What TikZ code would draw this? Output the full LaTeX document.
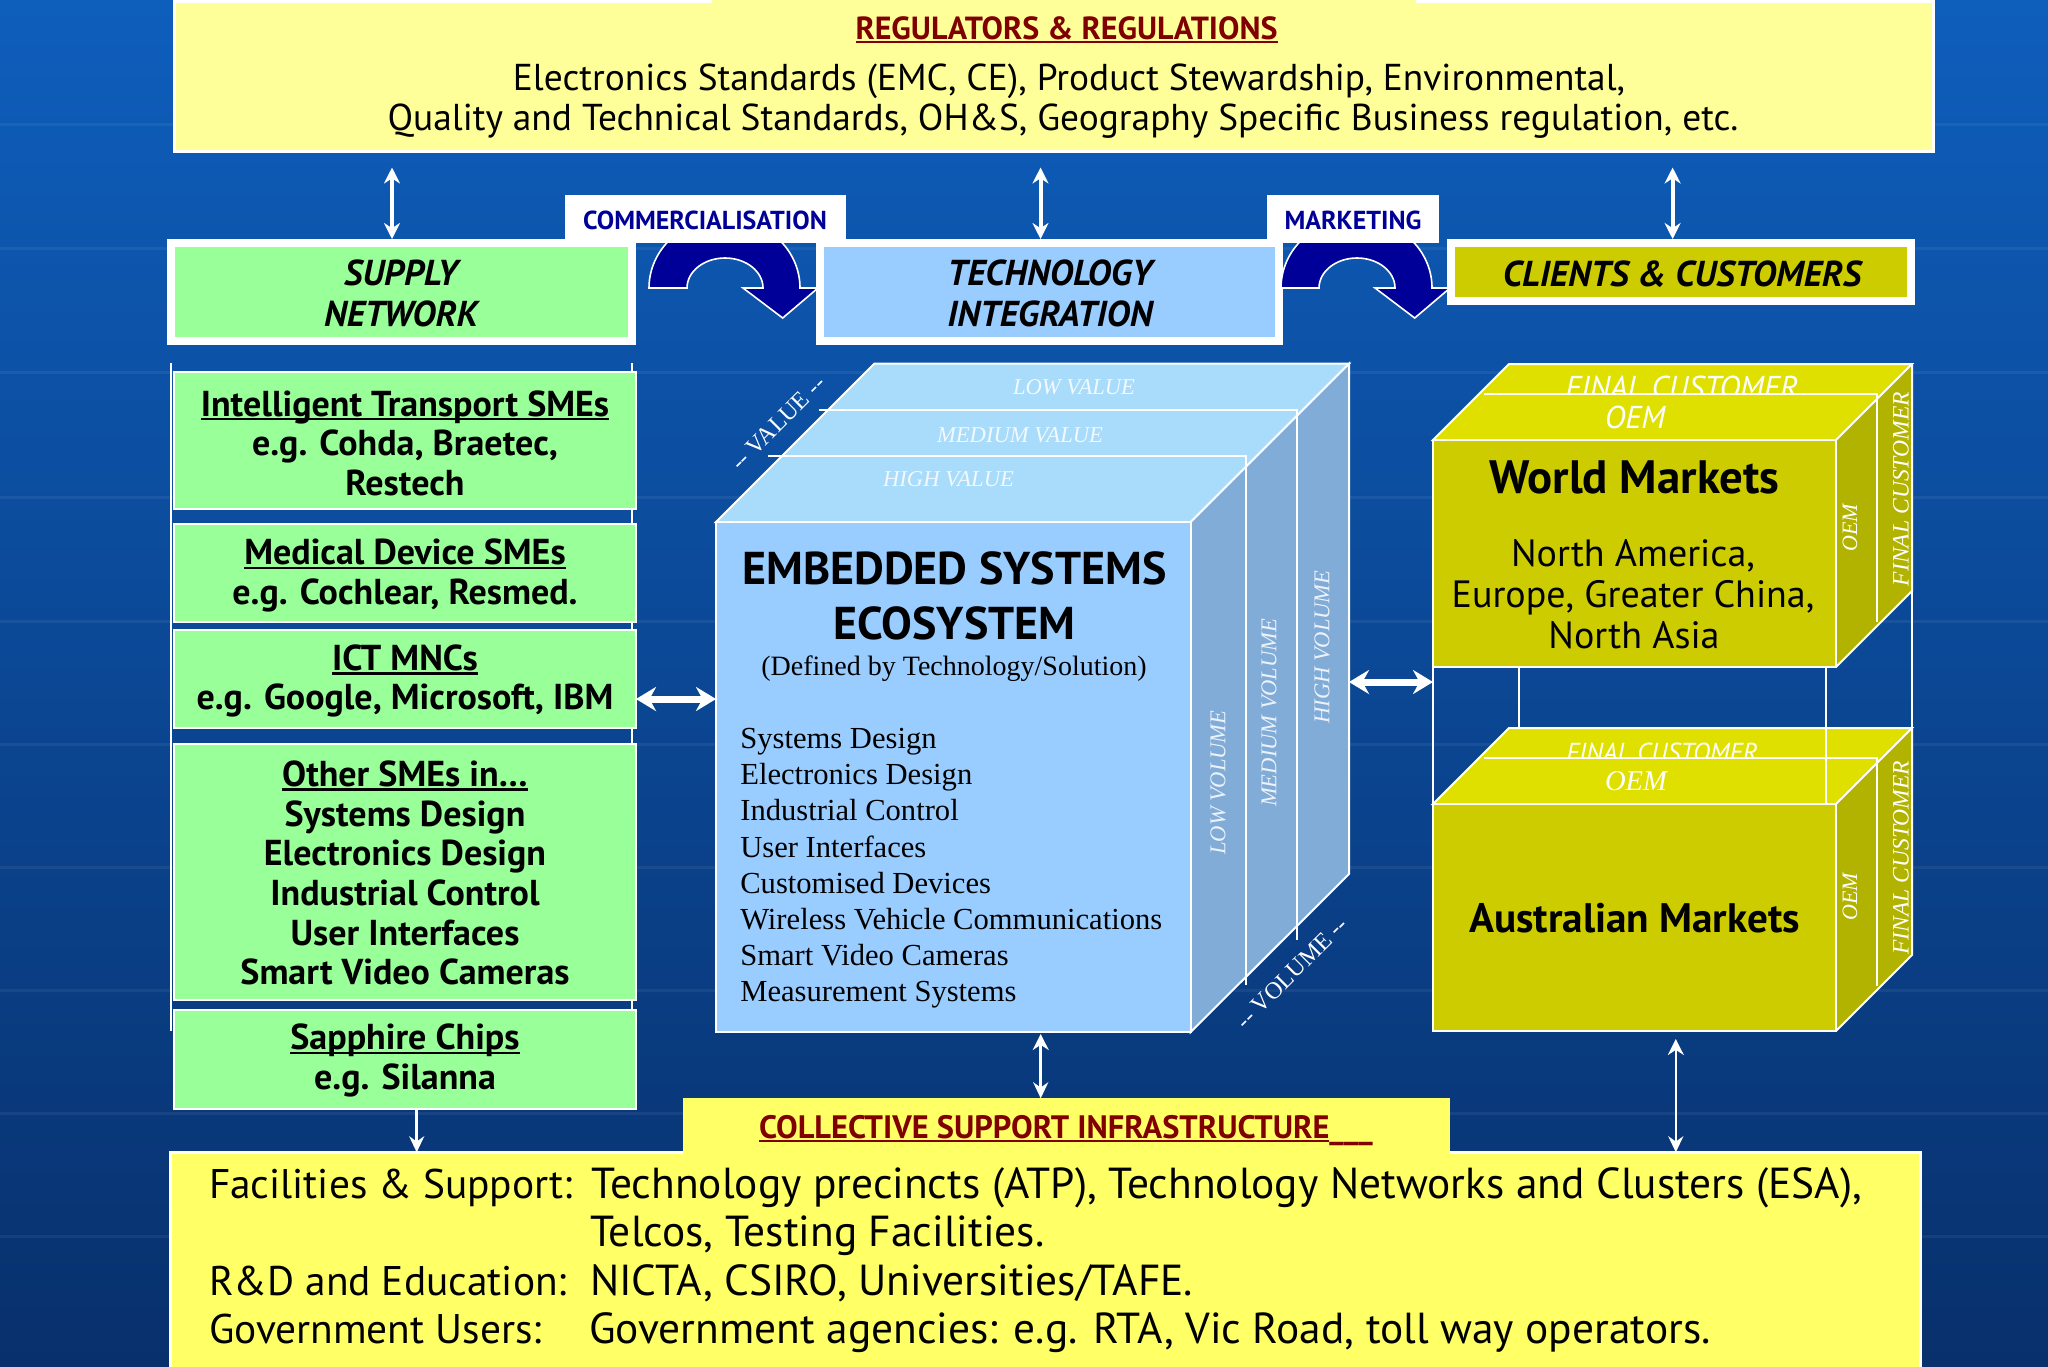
\documentclass[tikz,border=0pt]{standalone}
\usepackage{fontspec}
\setmainfont{PT Sans}
\newfontfamily\tnr{Liberation Serif}
\usetikzlibrary{arrows.meta,fit}
\newcommand\fsz[2]{\fontsize{#1}{#2}\selectfont}
\newcommand\myul[1]{\setbox0\hbox{#1}\rlap{\rule[-0.12em]{\wd0}{0.07em}}\box0}
\definecolor{bgtop}{RGB}{14,94,188}
\definecolor{bgbot}{RGB}{8,48,108}
\definecolor{regy}{RGB}{255,255,153}
\definecolor{boty}{RGB}{255,255,102}
\definecolor{grn}{RGB}{153,255,153}
\definecolor{ltb}{RGB}{153,204,255}
\definecolor{oliv}{RGB}{204,204,0}
\definecolor{olivtop}{RGB}{224,224,0}
\definecolor{olivside}{RGB}{178,178,0}
\definecolor{cubetop}{RGB}{168,220,250}
\definecolor{cubeside}{RGB}{130,172,216}
\definecolor{navyarr}{RGB}{0,0,153}
\definecolor{dred}{RGB}{128,0,0}
\begin{document}
\begin{tikzpicture}[x=0.5pt,y=-0.5pt,
  every node/.style={inner sep=0pt,outer sep=0pt},
  hdrbox/.style={draw=white,line width=4pt},
  hdrtxt/.style={align=center,font=\bfseries\itshape\fsz{18}{20.25}},
  tabtxt/.style={font=\bfseries\fsz{13}{15},text=navyarr},
  grnbox/.style={fill=grn,draw=white,line width=0.8pt},
  grntxt/.style={align=center,font=\bfseries\fsz{18}{19.8}},
  varr/.style={draw=white,line width=2pt,{Stealth[length=8pt,width=8pt]}-{Stealth[length=8pt,width=8pt]}},
  harr/.style={draw=white,line width=3.5pt,{Stealth[length=10pt,width=12pt]}-{Stealth[length=10pt,width=12pt]}},
  sarr/.style={draw=white,line width=1.3pt,-{Stealth[length=8pt,width=7.5pt]}},
  darr/.style={draw=white,line width=1.3pt,{Stealth[length=8pt,width=8pt]}-{Stealth[length=8pt,width=7.5pt]}},
  uturn/.style={fill=navyarr,draw=white,line width=0.8pt},
  edge3d/.style={draw=white,line width=1pt},
  facelbl/.style={text=white,opacity=0.85,font=\tnr\itshape\fsz{11.3}{13}},
  axlbl/.style={text=white,font=\tnr\fsz{12}{14},rotate=45},
  mlbl/.style={text=white,font=\itshape\fsz{15.8}{17}},
  slbl/.style={text=white,font=\tnr\itshape\fsz{11}{13},rotate=90},
  btxta/.style={anchor=base west,font=\fsz{20.7}{24}},
  btxtb/.style={anchor=base west,font=\fsz{21.7}{24}}]
\useasboundingbox (0,0) rectangle (2048,1366);
\shade[top color=bgtop,bottom color=bgbot] (0,0) rectangle (2048,1366);
\foreach \yy in {124,248,372,497,621,744,867,990,1113,1236}
  \draw[white,opacity=0.06,line width=1.5pt] (0,\yy) -- (2048,\yy);

% ---------- regulators ----------
\node[fill=regy,draw=white,line width=1.5pt,fit={(174,1.5) (1933,151.5)}] (reg) {};
\node[fill=regy,fit={(712,-10) (1416,8)}] (regtab) {};
\node[anchor=base,font=\bfseries\fsz{16}{18},text=dred] (regt) at (1066.5,39.3) {\myul{REGULATORS \& REGULATIONS}};
\node[anchor=base,font=\fsz{18.7}{22}] (regl1) at (1069,90) {Electronics Standards (EMC, CE), Product Stewardship, Environmental,};
\node[anchor=base,font=\fsz{18.7}{22}] (regl2) at (1063,130.7) {Quality and Technical Standards, OH\&S, Geography Specific Business regulation, etc.};

% ---------- row 2 ----------
\node[hdrbox,fill=grn,fit={(170.75,243) (631.5,340.5)}] (supply) {};
\node[hdrbox,fill=ltb,fit={(819.5,243) (1279,340.5)}] (tech) {};
\node[hdrbox,fill=oliv,fit={(1450.5,243) (1911,300.5)}] (clients) {};
\node[hdrtxt] (supplyt) at (401,293.5) {SUPPLY\\NETWORK};
\node[hdrtxt] (techt) at (1050,293.5) {TECHNOLOGY\\INTEGRATION};
\node[hdrtxt] (clientst) at (1682,274) {CLIENTS \& CUSTOMERS};

\path[uturn] (649,288) arc[start angle=180,end angle=360,x radius=75.5,y radius=70]
  -- (818,288) -- (782.7,318) -- (743,288) -- (763,288)
  arc[start angle=0,end angle=-180,x radius=38,y radius=30] -- cycle;
\path[uturn] (1281,288) arc[start angle=180,end angle=360,x radius=75.5,y radius=70]
  -- (1450,288) -- (1414.7,318) -- (1375,288) -- (1395,288)
  arc[start angle=0,end angle=-180,x radius=38,y radius=30] -- cycle;

\node[fill=white,fit={(565,195) (846,243)}] (comtab) {};
\node[fill=white,fit={(1267,195) (1439.4,242.7)}] (mkttab) {};
\node[tabtxt] (comt) at (705,220.5) {COMMERCIALISATION};
\node[tabtxt] (mktt) at (1353,220.5) {MARKETING};

\coordinate (xa1) at (392,0);
\coordinate (xa2) at (1040.5,0);
\coordinate (xa3) at (1672.6,0);
\draw[varr,shorten <=8pt,shorten >=2pt] (reg.south -| xa1) -- (supply.north -| xa1);
\draw[varr,shorten <=8pt,shorten >=2pt] (reg.south -| xa2) -- (tech.north -| xa2);
\draw[varr,shorten <=8pt,shorten >=2pt] (reg.south -| xa3) -- (clients.north -| xa3);

% ---------- left column ----------
\draw[white,line width=1pt] (171,363) -- (171,1031);
\draw[white,line width=1pt] (631.5,363) -- (631.5,1031);
\node[grnbox,fit={(174,372) (636,509)}] (its) {};
\node[grnbox,fit={(174,524) (636,622)}] (med) {};
\node[grnbox,fit={(174,630) (636,728)}] (ict) {};
\node[grnbox,fit={(174,744) (636,1000)}] (oth) {};
\node[grnbox,fit={(174,1010) (636,1109)}] (sap) {};
\node[grntxt] (itst) at (405,443) {\myul{Intelligent Transport SMEs}\\e.g. Cohda, Braetec,\\Restech};
\node[grntxt] (medt) at (405,575.5) {\myul{Medical Device SMEs}\\e.g. Cochlear, Resmed.};
\node[grntxt] (ictt) at (405,681) {\myul{ICT MNCs}\\e.g. Google, Microsoft, IBM};
\node[grntxt] (otht) at (405,873) {\myul{Other SMEs in…}\\Systems Design\\Electronics Design\\Industrial Control\\User Interfaces\\Smart Video Cameras};
\node[grntxt] (sapt) at (405,1060.5) {\myul{Sapphire Chips}\\e.g. Silanna};

% ---------- cube ----------
\path[fill=cubetop,edge3d] (716,522) -- (874.3,363.7) -- (1349,363.7) -- (1190.7,522) -- cycle;
\path[fill=cubeside,edge3d] (1190.7,522) -- (1349,363.7) -- (1349,874) -- (1190.7,1032) -- cycle;
\node[fill=ltb,edge3d,fit={(716,522) (1190.7,1032)}] (cube) {};
\draw[edge3d] (768,455.7) -- (1245.7,455.7) -- (1245.7,985);
\draw[edge3d] (819,410) -- (1297,410) -- (1297,940);
\coordinate (cubeback) at (1349,682);
\node[facelbl] (lval) at (1074,387.6) {LOW VALUE};
\node[facelbl] (mval) at (1020,435) {MEDIUM VALUE};
\node[facelbl] (hval) at (948.5,479) {HIGH VALUE};
\node[facelbl,rotate=90] (lvol) at (1218,782.6) {LOW VOLUME};
\node[facelbl,rotate=90] (mvol) at (1269,712.8) {MEDIUM VOLUME};
\node[facelbl,rotate=90] (hvol) at (1322,647) {HIGH VOLUME};
\node[axlbl] (valax) at (778,423) {-\kern0pt- VALUE -\kern0pt-};
\node[axlbl] (volax) at (1291.7,973) {-\kern0pt- VOLUME -\kern0pt-};
\node[anchor=base,font=\bfseries\fsz{23}{26}] (es1) at (954.5,584) {EMBEDDED SYSTEMS};
\node[anchor=base,font=\bfseries\fsz{23}{26}] (es2) at (954.5,639) {ECOSYSTEM};
\node[anchor=base,font=\tnr\fsz{14}{16}] (es3) at (954,675) {(Defined by Technology/Solution)};
\foreach \t [count=\i] in {Systems Design,Electronics Design,Industrial Control,User Interfaces,Customised Devices,Wireless Vehicle Communications,Smart Video Cameras,Measurement Systems}
  \node[anchor=base west,font=\tnr\fsz{15.3}{18}] (li\i) at (740.3,{748.5+(\i-1)*36.2}) {\t};

% ---------- world markets ----------
\fill[olivtop] (1433,440) -- (1509,364) -- (1912,364) -- (1836,440) -- cycle;
\fill[olivside] (1836,440) -- (1912,364) -- (1912,591) -- (1836,667) -- cycle;
\node[mlbl,anchor=base] (wfc) at (1681.7,398) {FINAL CUSTOMER};
\fill[olivtop] (1433,440) -- (1478.7,394.3) -- (1877,394.3) -- (1836,440) -- cycle;
\draw[edge3d] (1433,440) -- (1509,364) -- (1912,364) -- (1836,440) -- cycle;
\draw[edge3d] (1912,364) -- (1912,591) -- (1836,667);
\draw[edge3d] (1484,394.3) -- (1877,394.3) -- (1877,622);
\node[mlbl,anchor=base] (woem) at (1635,428) {OEM};
\node[slbl] (wsoem) at (1850,527.5) {OEM};
\node[slbl,font=\tnr\itshape\fsz{11.8}{13}] (wsfc) at (1901,489) {FINAL CUSTOMER};
\node[fill=oliv,edge3d,fit={(1433,440) (1836,667)}] (world) {};
\node[anchor=base,font=\bfseries\fsz{23.4}{26}] (wm1) at (1634.5,493) {World Markets};
\node[anchor=base,font=\fsz{19}{22}] (wm2) at (1633,566) {North America,};
\node[anchor=base,font=\fsz{19}{22}] (wm3) at (1633,607) {Europe, Greater China,};
\node[anchor=base,font=\fsz{19}{22}] (wm4) at (1634,648) {North Asia};

% ---------- australian markets ----------
\fill[olivtop] (1433,804) -- (1509,728) -- (1912,728) -- (1836,804) -- cycle;
\fill[olivside] (1836,804) -- (1912,728) -- (1912,955) -- (1836,1031) -- cycle;
\node[mlbl,anchor=base,font=\itshape\fsz{13}{15}] (afc) at (1662,761) {FINAL CUSTOMER};
\fill[olivtop] (1433,804) -- (1478.7,758.3) -- (1877,758.3) -- (1836,804) -- cycle;
\draw[edge3d] (1433,804) -- (1509,728) -- (1912,728) -- (1836,804) -- cycle;
\draw[edge3d] (1912,728) -- (1912,955) -- (1836,1031);
\draw[edge3d] (1484,758.3) -- (1877,758.3) -- (1877,986);
\node[mlbl,anchor=base,font=\tnr\itshape\fsz{14.3}{16}] (aoem) at (1636,790) {OEM};
\node[slbl] (asoem) at (1850,896.5) {OEM};
\node[slbl,font=\tnr\itshape\fsz{11.8}{13}] (asfc) at (1901,857.7) {FINAL CUSTOMER};
\node[fill=oliv,edge3d,fit={(1433,804) (1836,1031)}] (aus) {};
\node[anchor=base,font=\bfseries\fsz{20.6}{24}] (am1) at (1634.5,932.6) {Australian Markets};
\draw[edge3d] (1433,667) -- (1433,804);
\draw[edge3d] (1519,667) -- (1519,728);
\draw[edge3d] (1826,667) -- (1826,804);
\draw[edge3d] (1912,591) -- (1912,728);

% ---------- horizontal arrows ----------
\coordinate (hy1) at (0,699);
\coordinate (hy2) at (0,682);
\draw[harr] (ict.east |- hy1) -- (cube.west |- hy1);
\draw[harr] (cubeback |- hy2) -- (world.west |- hy2);

% ---------- bottom ----------
\node[fill=boty,draw=white,line width=1.5pt,fit={(170,1152.3) (1920,1390)}] (bot) {};
\node[fill=boty,fit={(683,1098.3) (1450,1156)}] (bottab) {};
\node[anchor=base west,font=\bfseries\fsz{16.2}{18},text=dred] (bott) at (759,1138.3) {\myul{COLLECTIVE SUPPORT INFRASTRUCTURE}\_\_\_};
\node[btxta] (f1a) at (209,1198.3) {Facilities \& Support:};
\node[btxtb] (f1b) at (591.7,1198.3) {Technology precincts (ATP), Technology Networks and Clusters (ESA),};
\node[btxtb] (f2b) at (590.4,1246.7) {Telcos, Testing Facilities.};
\node[btxta] (f3a) at (209,1295) {R\&D and Education:};
\node[btxtb] (f3b) at (590,1295) {NICTA, CSIRO, Universities/TAFE.};
\node[btxta] (f4a) at (209,1343.3) {Government Users:};
\node[btxtb] (f4b) at (589,1343.3) {Government agencies: e.g. RTA, Vic Road, toll way operators.};

\coordinate (xb1) at (416.7,0);
\coordinate (xb2) at (1040.7,0);
\coordinate (xb3) at (1675.8,0);
\draw[sarr] (sap.south -| xb1) -- (bot.north -| xb1);
\draw[darr,shorten <=1pt] (cube.south -| xb2) -- (bottab.north -| xb2);
\draw[darr,shorten <=4pt] (aus.south -| xb3) -- (bot.north -| xb3);
\end{tikzpicture}
\end{document}
